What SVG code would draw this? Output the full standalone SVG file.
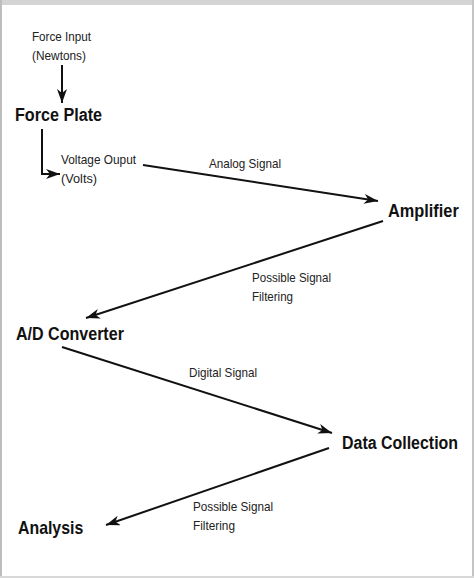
<svg xmlns="http://www.w3.org/2000/svg" width="474" height="578" viewBox="0 0 474 578">
  <defs>
    <marker id="arrow" markerUnits="userSpaceOnUse" markerWidth="15" markerHeight="11" refX="14" refY="5" orient="auto">
      <path d="M0,0 L14,5 L0,10 L4,5 Z" fill="#111"/>
    </marker>
    <style>
      .node { font-family: "Liberation Sans", Arial, sans-serif; font-weight: bold; font-size: 19px; fill: #111; }
      .lbl { font-family: "Liberation Sans", Arial, sans-serif; font-size: 13px; fill: #222; }
      .edge { fill: none; stroke: #111; stroke-width: 2; marker-end: url(#arrow); }
    </style>
  </defs>
  <rect x="0" y="0" width="474" height="578" fill="#ffffff"/>
  <g id="frame">
    <rect x="0" y="0" width="474" height="5" fill="#d4d4d4"/>
    <rect x="0" y="0" width="2" height="578" fill="#bdbdbd"/>
    <rect x="472" y="0" width="2" height="578" fill="#c4c4c4"/>
    <rect x="0" y="576" width="474" height="2" fill="#d8d8d8"/>
  </g>
  <g id="connectors">
    <path class="edge" d="M62,65 V103"/>
    <path class="edge" d="M42,129 V174 H60"/>
    <path class="edge" d="M143,165 L378,201"/>
    <path class="edge" d="M383,221 L86,318"/>
    <path class="edge" d="M62,347 L332,433"/>
    <path class="edge" d="M329,448 L106,525"/>
  </g>
  <g id="node-force-input">
    <text class="lbl" x="32" y="41" textLength="59" lengthAdjust="spacingAndGlyphs">Force Input</text>
    <text class="lbl" x="32" y="60" textLength="54" lengthAdjust="spacingAndGlyphs">(Newtons)</text>
  </g>
  <g id="node-force-plate">
    <text class="node" transform="translate(15,121) scale(0.85,1)">Force Plate</text>
  </g>
  <g id="node-amplifier">
    <text class="node" transform="translate(388,217) scale(0.86,1)">Amplifier</text>
  </g>
  <g id="node-ad-converter">
    <text class="node" transform="translate(16,340) scale(0.845,1)">A/D Converter</text>
  </g>
  <g id="node-data-collection">
    <text class="node" transform="translate(342,449) scale(0.84,1)">Data Collection</text>
  </g>
  <g id="node-analysis">
    <text class="node" transform="translate(18,534) scale(0.835,1)">Analysis</text>
  </g>
  <g id="edge-labels">
    <text class="lbl" x="61" y="164" textLength="75" lengthAdjust="spacingAndGlyphs">Voltage Ouput</text>
    <text class="lbl" x="61" y="183" textLength="36" lengthAdjust="spacingAndGlyphs">(Volts)</text>
    <text class="lbl" x="209" y="168" textLength="72" lengthAdjust="spacingAndGlyphs">Analog Signal</text>
    <text class="lbl" x="252" y="282" textLength="79" lengthAdjust="spacingAndGlyphs">Possible Signal</text>
    <text class="lbl" x="252" y="301" textLength="41" lengthAdjust="spacingAndGlyphs">Filtering</text>
    <text class="lbl" x="189" y="377" textLength="68" lengthAdjust="spacingAndGlyphs">Digital Signal</text>
    <text class="lbl" x="193" y="511" textLength="80" lengthAdjust="spacingAndGlyphs">Possible Signal</text>
    <text class="lbl" x="193" y="530" textLength="42" lengthAdjust="spacingAndGlyphs">Filtering</text>
  </g>
</svg>
